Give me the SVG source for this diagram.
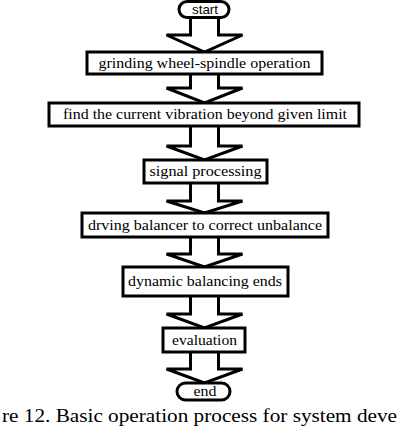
<svg xmlns="http://www.w3.org/2000/svg" width="402" height="440" viewBox="0 0 402 440">
<style>
.box{fill:#fff;stroke:#000;stroke-width:3}
.arr{fill:#fff;stroke:#000;stroke-width:3;stroke-linejoin:miter}
text{font-family:'Liberation Serif','DejaVu Serif','Times New Roman',serif;fill:#000}
.t{font-size:15px;text-anchor:middle}
.s{font-family:'Liberation Sans','DejaVu Sans',Arial,sans-serif;font-size:13px;text-anchor:middle}
.cap{font-size:18px}
</style>
<rect width="402" height="440" fill="#fff"/>
<g id="connectors">
<path class="arr" d="M190.5,17 V35 H166.5 L204.5,52 L242.5,35 H218.5 V17"/>
<path class="arr" d="M190.5,74 V88 H166.5 L204.5,103 L242.5,88 H218.5 V74"/>
<path class="arr" d="M190.5,126 V146 H166.5 L204.5,160 L242.5,146 H218.5 V126"/>
<path class="arr" d="M190.5,183 V201 H166.5 L204.5,213 L242.5,201 H218.5 V183"/>
<path class="arr" d="M190.5,237 V254 H166.5 L204.5,267 L242.5,254 H218.5 V237"/>
<path class="arr" d="M190.5,296 V314 H166.5 L204.5,328 L242.5,314 H218.5 V296"/>
<path class="arr" d="M190.5,352 V369 H166.5 L204.5,383 L242.5,369 H218.5 V352"/>
</g>
<g id="start"><rect class="box" x="179" y="1.5" width="50" height="16" rx="8"/><text class="s" x="205" y="14" textLength="26" lengthAdjust="spacingAndGlyphs">start</text></g>
<g id="grinding"><rect class="box" x="87" y="52" width="235" height="22"/><text class="t" x="204.5" y="68" textLength="212" lengthAdjust="spacingAndGlyphs">grinding wheel-spindle operation</text></g>
<g id="find"><rect class="box" x="49" y="103" width="310" height="23"/><text class="t" x="205" y="119" textLength="284" lengthAdjust="spacingAndGlyphs">find the current vibration beyond given limit</text></g>
<g id="signal"><rect class="box" x="144" y="160" width="123" height="23"/><text class="t" x="205.5" y="176" textLength="112" lengthAdjust="spacingAndGlyphs">signal processing</text></g>
<g id="drving"><rect class="box" x="82" y="213" width="246" height="24"/><text class="t" x="205" y="230" textLength="234" lengthAdjust="spacingAndGlyphs">drving balancer to correct unbalance</text></g>
<g id="dynamic"><rect class="box" x="123" y="267" width="165" height="29"/><text class="t" x="205" y="286" textLength="154" lengthAdjust="spacingAndGlyphs">dynamic balancing ends</text></g>
<g id="evaluation"><rect class="box" x="163" y="328" width="82" height="24"/><text class="t" x="204.5" y="345" textLength="65" lengthAdjust="spacingAndGlyphs">evaluation</text></g>
<g id="end"><rect class="box" x="177" y="383" width="53" height="17" rx="8.5"/><text class="t" x="205" y="396" textLength="23" lengthAdjust="spacingAndGlyphs">end</text></g>
<text class="cap" x="2" y="422" textLength="395" lengthAdjust="spacingAndGlyphs">re 12. Basic operation process for system deve</text>
</svg>
